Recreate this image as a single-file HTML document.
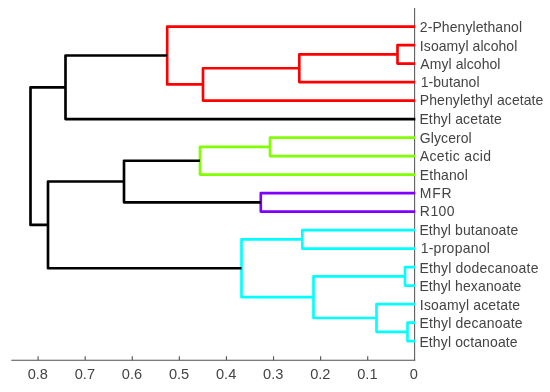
<!DOCTYPE html>
<html><head><meta charset="utf-8"><title>Dendrogram</title>
<style>html,body{margin:0;padding:0;background:#fff}body{width:550px;height:392px;position:relative;overflow:hidden}</style></head>
<body>
<svg width="550" height="392" viewBox="0 0 550 392" style="position:absolute;left:0;top:0">
<g stroke="#505050" stroke-width="1.1" fill="none">
<path d="M11.3 360.3H415.30"/>
<path d="M414.60 8V360.3" stroke="#5c5c5c"/>
<path d="M367.71 360.3v-4"/>
<path d="M320.62 360.3v-4"/>
<path d="M273.53 360.3v-4"/>
<path d="M226.44 360.3v-4"/>
<path d="M179.35 360.3v-4"/>
<path d="M132.26 360.3v-4"/>
<path d="M85.17 360.3v-4"/>
<path d="M38.08 360.3v-4"/>
</g>
<g fill="none" stroke-width="2.65" stroke-linejoin="round" stroke-linecap="butt">
<path d="M415.30 45.10H397.50V63.60H415.30" stroke="#ff0000"/>
<path d="M397.50 54.35H299.30V82.10H415.30" stroke="#ff0000"/>
<path d="M299.30 68.22H203.00V100.60H415.30" stroke="#ff0000"/>
<path d="M415.30 26.60H167.20V84.41H203.00" stroke="#ff0000"/>
<path d="M167.20 55.51H65.50V119.10H415.30" stroke="#000000"/>
<path d="M415.30 137.60H270.00V156.10H415.30" stroke="#80ff00"/>
<path d="M270.00 146.85H200.00V174.60H415.30" stroke="#80ff00"/>
<path d="M415.30 193.10H260.80V211.60H415.30" stroke="#8000ff"/>
<path d="M200.00 160.72H124.00V202.35H260.80" stroke="#000000"/>
<path d="M415.30 230.10H302.30V248.60H415.30" stroke="#00ffff"/>
<path d="M415.30 267.10H405.00V285.60H415.30" stroke="#00ffff"/>
<path d="M415.30 322.60H407.50V341.10H415.30" stroke="#00ffff"/>
<path d="M415.30 304.10H376.50V331.85H407.50" stroke="#00ffff"/>
<path d="M405.00 276.35H313.50V317.98H376.50" stroke="#00ffff"/>
<path d="M302.30 239.35H241.50V297.16H313.50" stroke="#00ffff"/>
<path d="M124.00 181.54H48.00V268.26H241.50" stroke="#000000"/>
<path d="M65.50 87.30H30.50V224.90H48.00" stroke="#000000"/>
</g>
<g font-family="'Liberation Sans', Arial, sans-serif" font-size="14" fill="#444" letter-spacing="0.08">
<text transform="translate(419.85 32.05) scale(1 0.985)" letter-spacing="0.08">2-Phenylethanol</text>
<text transform="translate(419.85 51.05) scale(1 0.985)" letter-spacing="0.08">Isoamyl alcohol</text>
<text transform="translate(420.35 69.05) scale(1 0.985)" letter-spacing="0.08">Amyl alcohol</text>
<text transform="translate(420.65 87.35) scale(1 0.985)" letter-spacing="0.08">1-butanol</text>
<text transform="translate(419.85 105.35) scale(1 0.985)" letter-spacing="0.08">Phenylethyl acetate</text>
<text transform="translate(419.40 123.85) scale(1 0.985)" letter-spacing="0.14">Ethyl acetate</text>
<text transform="translate(419.85 142.75) scale(1 0.985)" letter-spacing="0.08">Glycerol</text>
<text transform="translate(419.85 161.35) scale(1 0.985)" letter-spacing="0.35">Acetic acid</text>
<text transform="translate(419.85 179.55) scale(1 0.985)" letter-spacing="0.08">Ethanol</text>
<text transform="translate(419.85 198.05) scale(1 0.985)" letter-spacing="0.7">MFR</text>
<text transform="translate(419.85 216.35) scale(1 0.985)" letter-spacing="0.45">R100</text>
<text transform="translate(419.40 235.25) scale(1 0.985)" letter-spacing="0.12">Ethyl butanoate</text>
<text transform="translate(420.65 253.25) scale(1 0.985)" letter-spacing="0.27">1-propanol</text>
<text transform="translate(419.40 272.90) scale(1 0.985)" letter-spacing="0.2">Ethyl dodecanoate</text>
<text transform="translate(419.40 291.30) scale(1 0.985)" letter-spacing="0.12">Ethyl hexanoate</text>
<text transform="translate(419.85 309.60) scale(1 0.985)" letter-spacing="0.17">Isoamyl acetate</text>
<text transform="translate(419.40 328.40) scale(1 0.985)" letter-spacing="0.21">Ethyl decanoate</text>
<text transform="translate(419.40 347.40) scale(1 0.985)" letter-spacing="0.13">Ethyl octanoate</text>
<text x="413.90" y="378.8" text-anchor="middle" font-size="14.6" letter-spacing="0">0</text>
<text x="367.41" y="378.8" text-anchor="middle" font-size="14.6" letter-spacing="0">0.1</text>
<text x="320.32" y="378.8" text-anchor="middle" font-size="14.6" letter-spacing="0">0.2</text>
<text x="273.23" y="378.8" text-anchor="middle" font-size="14.6" letter-spacing="0">0.3</text>
<text x="226.14" y="378.8" text-anchor="middle" font-size="14.6" letter-spacing="0">0.4</text>
<text x="179.05" y="378.8" text-anchor="middle" font-size="14.6" letter-spacing="0">0.5</text>
<text x="131.96" y="378.8" text-anchor="middle" font-size="14.6" letter-spacing="0">0.6</text>
<text x="84.87" y="378.8" text-anchor="middle" font-size="14.6" letter-spacing="0">0.7</text>
<text x="37.78" y="378.8" text-anchor="middle" font-size="14.6" letter-spacing="0">0.8</text>
</g>
</svg>
</body></html>
